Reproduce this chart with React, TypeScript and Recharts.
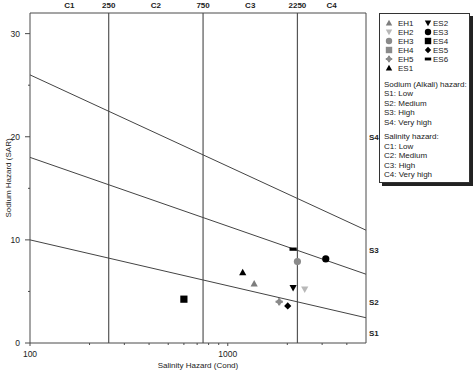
import React from "react";
import {
  ScatterChart,
  Scatter,
  XAxis,
  YAxis,
  ReferenceLine,
} from "recharts";

// sample groups and their position on the diagram
const seriesNames = ["EH1", "EH2", "EH3", "EH4", "EH5", "ES1", "ES2", "ES3", "ES4", "ES5", "ES6"];
const condValues: (number | null)[] = [1360, 2450, 2250, null, 1820, 1190, 2140, 3130, 600, 2010, 2140];
const sarValues: (number | null)[] = [5.76, 5.2, 7.9, null, 4.0, 6.85, 5.35, 8.15, 4.25, 3.6, 9.1];

// hazard class boundaries
const boundaryCond = [100, 5000];
const s1s2Sar = [10, 2.45];
const s2s3Sar = [18, 6.67];
const s3s4Sar = [26, 10.94];
const salinityBounds = [250, 750, 2250];

// axis ticks
const xMajorTicks = [100, 1000];
const xMinorTicks = [200, 300, 400, 500, 600, 700, 800, 900, 2000, 3000, 4000];
const yMajorTicks = [0, 10, 20, 30];
const yMinorTicks = [5, 15, 25];
const topTickValues = [158, 250, 433, 750, 1299, 2250, 3354];
const topTickLabels = ["C1", "250", "C2", "750", "C3", "2250", "C4"];
const rightTickValues = [1, 4, 9, 20];
const rightTickLabels = ["S1", "S2", "S3", "S4"];

const sodiumLegend = ["S1: Low", "S2: Medium", "S3: High", "S4: Very high"];
const salinityLegend = ["C1: Low", "C2: Medium", "C3: High", "C4: Very high"];

const FONT = "'Liberation Sans', Arial, sans-serif";
const AXIS = "#4a4a4a";

type Kind = "up" | "down" | "circle" | "square" | "diamond" | "plus" | "dash";
const markerKinds: Kind[] = ["up", "down", "circle", "square", "plus", "up", "down", "circle", "square", "diamond", "dash"];
const markerColors = ["#7d7d7d", "#b8b8b8", "#8a8a8a", "#8a8a8a", "#8a8a8a", "#000", "#000", "#000", "#000", "#000", "#000"];

function Marker({ kind, cx, cy, r, fill }: { kind: Kind; cx: number; cy: number; r: number; fill: string }) {
  switch (kind) {
    case "up":
      return <polygon points={`${cx},${cy - r} ${cx + r},${cy + r * 0.8} ${cx - r},${cy + r * 0.8}`} fill={fill} />;
    case "down":
      return <polygon points={`${cx - r},${cy - r * 0.8} ${cx + r},${cy - r * 0.8} ${cx},${cy + r}`} fill={fill} />;
    case "circle":
      return <circle cx={cx} cy={cy} r={r} fill={fill} />;
    case "square":
      return <rect x={cx - r} y={cy - r} width={r * 2} height={r * 2} fill={fill} />;
    case "diamond":
      return <polygon points={`${cx},${cy - r} ${cx + r},${cy} ${cx},${cy + r} ${cx - r},${cy}`} fill={fill} />;
    case "plus":
      return (
        <g fill={fill}>
          <polygon points={`${cx},${cy - r} ${cx + r},${cy} ${cx},${cy + r} ${cx - r},${cy}`} />
          <rect x={cx - r * 0.3} y={cy - r} width={r * 0.6} height={r * 2} />
          <rect x={cx - r} y={cy - r * 0.3} width={r * 2} height={r * 0.6} />
        </g>
      );
    case "dash":
      return <rect x={cx - r} y={cy - r * 0.45} width={r * 2} height={r * 0.9} fill={fill} />;
  }
  return null;
}

function BottomTick(props: any) {
  const { x, y, payload } = props;
  const major = xMajorTicks.includes(payload.value);
  return (
    <g>
      <line x1={x} x2={x} y1={y} y2={y + (major ? 3 : 2)} stroke={AXIS} />
      {major && (
        <text x={x} y={y + 14} textAnchor="middle" fontSize={8.5} fontFamily={FONT} fill="#222">
          {payload.value}
        </text>
      )}
    </g>
  );
}

function LeftTick(props: any) {
  const { x, y, payload } = props;
  const major = yMajorTicks.includes(payload.value);
  return (
    <g>
      <line x1={x} x2={x - (major ? 5 : 2)} y1={y} y2={y} stroke={AXIS} />
      {major && (
        <text x={x - 10} y={y + 3} textAnchor="end" fontSize={8.5} fontFamily={FONT} fill="#222">
          {payload.value}
        </text>
      )}
    </g>
  );
}

function TopTick(props: any) {
  const { x, y, payload, index } = props;
  return (
    <text x={x} y={y - 5} textAnchor="middle" fontSize={8} fontWeight="bold" fontFamily={FONT} fill="#222">
      {topTickLabels[index] ?? payload.value}
    </text>
  );
}

function RightTick(props: any) {
  const { x, y, index } = props;
  return (
    <text x={x + 3} y={y + 3} textAnchor="start" fontSize={8} fontWeight="bold" fontFamily={FONT} fill="#222">
      {rightTickLabels[index]}
    </text>
  );
}

function LegendBox() {
  const col1 = seriesNames.filter((n) => n.startsWith("EH")).concat("ES1");
  const col2 = seriesNames.filter((n) => n.startsWith("ES") && n !== "ES1");
  const row = (i: number) => 11 + i * 9;
  const item = (name: string, i: number, mx: number, tx: number) => {
    const k = seriesNames.indexOf(name);
    return (
      <g key={name}>
        <Marker kind={markerKinds[k]} cx={mx} cy={row(i)} r={3.2} fill={markerColors[k]} />
        <text x={tx} y={row(i) + 3} fontSize={8} fontFamily={FONT} fill="#222">
          {name}
        </text>
      </g>
    );
  };
  return (
    <svg width={96} height={175} style={{ position: "absolute", left: 378, top: 12 }}>
      <rect x={4} y={4} width={91} height={170} fill="#222" />
      <rect x={1.5} y={1.5} width={90} height={169} fill="#fff" stroke="#333" />
      {col1.map((n, i) => item(n, i, 11, 20))}
      {col2.map((n, i) => item(n, i, 50, 55))}
      <text x={6} y={75} fontSize={8} fontFamily={FONT} fill="#222">
        Sodium (Alkali) hazard:
      </text>
      {sodiumLegend.map((s, i) => (
        <text key={s} x={6} y={84 + i * 9.5} fontSize={8} fontFamily={FONT} fill="#222">
          {s}
        </text>
      ))}
      <text x={6} y={127} fontSize={8} fontFamily={FONT} fill="#222">
        Salinity hazard:
      </text>
      {salinityLegend.map((s, i) => (
        <text key={s} x={6} y={136.5 + i * 9.5} fontSize={8} fontFamily={FONT} fill="#222">
          {s}
        </text>
      ))}
    </svg>
  );
}

export default function App() {
  const boundaries = [s1s2Sar, s2s3Sar, s3s4Sar];
  return (
    <div style={{ position: "absolute", left: 0, top: 0, width: 474, height: 371, background: "#fff" }}>
      <ScatterChart width={474} height={371} margin={{ top: 0, right: 0, bottom: 0, left: 0 }}>
        <XAxis
          xAxisId="top"
          orientation="top"
          type="number"
          scale="log"
          dataKey="cond"
          domain={[100, 5000]}
          allowDataOverflow
          ticks={topTickValues}
          interval={0}
          height={13}
          tickSize={0}
          tickMargin={0}
          tickLine={false}
          axisLine={{ stroke: AXIS }}
          tick={<TopTick />}
        />
        <XAxis
          xAxisId="bottom"
          orientation="bottom"
          type="number"
          scale="log"
          dataKey="cond"
          domain={[100, 5000]}
          allowDataOverflow
          ticks={[...xMajorTicks, ...xMinorTicks].sort((a, b) => a - b)}
          interval={0}
          height={28}
          tickSize={0}
          tickMargin={0}
          tickLine={false}
          axisLine={{ stroke: AXIS }}
          tick={<BottomTick />}
          label={{
            value: "Salinity Hazard (Cond)",
            position: "insideBottom",
            offset: 3,
            fontSize: 8,
            fontFamily: FONT,
            fill: "#222",
          }}
        />
        <YAxis
          yAxisId="left"
          type="number"
          dataKey="sar"
          domain={[0, 32]}
          allowDataOverflow
          ticks={[...yMajorTicks, ...yMinorTicks].sort((a, b) => a - b)}
          interval={0}
          width={30}
          tickSize={0}
          tickMargin={0}
          tickLine={false}
          axisLine={{ stroke: AXIS }}
          tick={<LeftTick />}
          label={{
            value: "Sodium Hazard (SAR)",
            position: "center",
            angle: -90,
            dx: -7,
            fontSize: 8,
            fontFamily: FONT,
            fill: "#222",
          }}
        />
        <YAxis
          yAxisId="right"
          orientation="right"
          type="number"
          domain={[0, 32]}
          allowDataOverflow
          ticks={rightTickValues}
          interval={0}
          width={108}
          tickSize={0}
          tickMargin={0}
          tickLine={false}
          axisLine={{ stroke: AXIS }}
          tick={<RightTick />}
        />
        {salinityBounds.map((c) => (
          <ReferenceLine key={c} x={c} xAxisId="bottom" yAxisId="left" stroke="#555" strokeWidth={1.2} />
        ))}
        {boundaries.map((b, i) => (
          <ReferenceLine
            key={i}
            xAxisId="bottom"
            yAxisId="left"
            segment={[
              { x: boundaryCond[0], y: b[0] },
              { x: boundaryCond[1], y: b[1] },
            ]}
            stroke="#444"
            strokeWidth={1}
          />
        ))}
        {seriesNames.map((name, k) => {
          const c = condValues[k];
          const s = sarValues[k];
          const data = c != null && s != null ? [{ cond: c, sar: s }] : [];
          return (
            <Scatter
              key={name}
              name={name}
              data={data}
              xAxisId="bottom"
              yAxisId="left"
              isAnimationActive={false}
              shape={(p: any) => (
                <Marker kind={markerKinds[k]} cx={p.cx} cy={p.cy} r={3.6} fill={markerColors[k]} />
              )}
            />
          );
        })}
      </ScatterChart>
      <LegendBox />
    </div>
  );
}
